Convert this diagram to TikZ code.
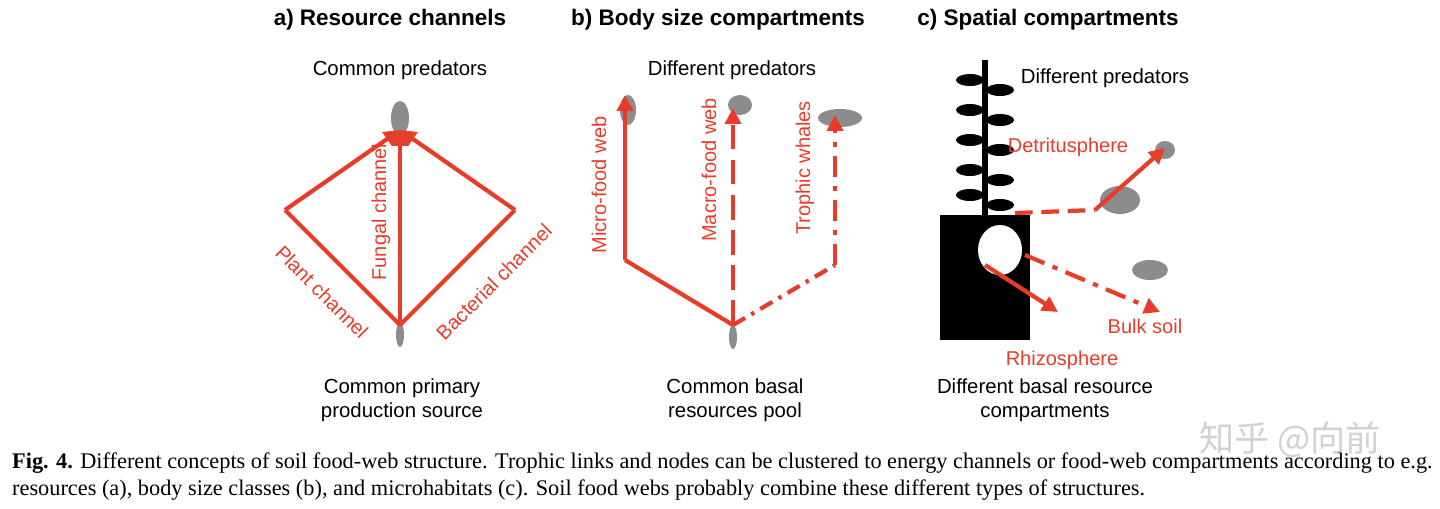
\documentclass[tikz,border=0pt]{standalone}
\usepackage{fontspec}
\setmainfont{Liberation Serif}
\setsansfont{Liberation Sans}
\newfontfamily\cjk{Noto Sans CJK SC}
\usetikzlibrary{arrows.meta}
\definecolor{rd}{RGB}{232,60,42}
\definecolor{org}{RGB}{140,140,140}
\begin{document}
\begin{tikzpicture}[x=0.02cm,y=-0.02cm,
  ttl/.style={font=\sffamily\bfseries\fontsize{12.8}{14}\selectfont},
  lbl/.style={font=\sffamily\fontsize{11.6}{13.5}\selectfont,align=center},
  rlbl/.style={font=\sffamily\fontsize{11.4}{13}\selectfont,text=rd},
  ar/.style={draw=rd,line width=2.4pt,-{Triangle[length=9pt,width=9pt]}},
  ln/.style={draw=rd,line width=2.4pt},
  bl/.style={fill=org,draw=none}]
\useasboundingbox (0,0) rectangle (1440,508);
% titles
\node[ttl] (ta) at (390,20) {a) Resource channels};
\node[ttl] (tb) at (718,20) {b) Body size compartments};
\node[ttl] (tc) at (1048,20) {c) Spatial compartments};
% ---- panel a
\node[lbl] (pa) at (400,70) {Common predators};
\fill[bl] (400,118) ellipse (9 and 17);
\fill[bl] (400,335) ellipse (4 and 12);
\coordinate (sa) at (400,325);
\coordinate (ta1) at (400,130);
\coordinate (la) at (285,210);
\coordinate (ra) at (515,210);
\draw[ln] (sa) -- (la);
\draw[ar] (la) -- (ta1);
\draw[ln] (sa) -- (ra);
\draw[ar] (ra) -- (ta1);
\draw[ar] (sa) -- (ta1);
\node[rlbl,rotate=-45] (plc) at (322,292) {Plant channel};
\node[rlbl,rotate=90] (fuc) at (381,212) {Fungal channel};
\node[rlbl,rotate=45] (bac) at (494,282) {Bacterial channel};
\node[lbl] (ba) at (402,400) {Common primary\\production source};
% ---- panel b
\node[lbl] (pb) at (732,70) {Different predators};
\fill[bl] (628,110) ellipse (8 and 15);
\fill[bl] (740,105) ellipse (12 and 10);
\fill[bl] (840,118) ellipse (22 and 9);
\fill[bl] (733,337) ellipse (4 and 12);
\coordinate (sb) at (733,325);
\coordinate (mb) at (625,260);
\coordinate (mbt) at (625,95);
\coordinate (mat) at (733,108);
\coordinate (wb) at (835,265);
\coordinate (wbt) at (835,115);
\draw[ln] (sb) -- (mb);
\draw[ar] (mb) -- (mbt);
\draw[ar,dash pattern=on 14pt off 6pt] (sb) -- (mat);
\draw[ln,dash pattern=on 8pt off 4pt on 2pt off 4pt] (sb) -- (wb);
\draw[ar,dash pattern=on 12pt off 5pt on 3pt off 5pt] (wb) -- (wbt);
\node[rlbl,rotate=90] (mic) at (599,185) {Micro-food web};
\node[rlbl,rotate=90] (mac) at (709,170) {Macro-food web};
\node[rlbl,rotate=90] (tw) at (805,168) {Trophic whales};
\node[lbl] (bb) at (735,400) {Common basal\\resources pool};
% ---- panel c
\node[lbl] (pc) at (1105,78) {Different predators};
\fill[black] (940,215) rectangle (1030,340);
\draw[black,line width=3pt] (985,215) -- (985,60);
\foreach \yy in {80,110,140,170,195}{
  \fill[black] (970,\yy) ellipse (14 and 6);
  \fill[black] (1000,\yy+10) ellipse (14 and 6);}
\fill[white] (1000,250) ellipse (22 and 25);
\fill[bl] (1165,150) ellipse (10 and 9);
\fill[bl] (1120,200) ellipse (20 and 14);
\fill[bl] (1150,270) ellipse (18 and 10);
\node[rlbl] (det) at (1068,147) {Detritusphere};
\coordinate (c1) at (1015,213);
\coordinate (c2) at (1095,210);
\coordinate (c3) at (1165,148);
\coordinate (c4) at (985,265);
\coordinate (c5) at (1058,312);
\coordinate (c6) at (1025,255);
\coordinate (c7) at (1160,312);
\draw[ln,dash pattern=on 10pt off 5pt] (c1) -- (c2);
\draw[ar] (c2) -- (c3);
\draw[ar] (c4) -- (c5);
\draw[ar,dash pattern=on 12pt off 5pt on 3pt off 5pt] (c6) -- (c7);
\node[rlbl] (bs) at (1145,326) {Bulk soil};
\node[rlbl] (rh) at (1062,360) {Rhizosphere};
\node[lbl] (bc) at (1045,400) {Different basal resource\\compartments};
% watermark
\node[text=black!18,font=\cjk\fontsize{20}{22}\selectfont] (wm) at (1290,440) {知乎 @向前};
% caption
\node[anchor=west,font=\fontsize{12.7}{15}\selectfont] (cap1) at (6,463) {\textbf{Fig. 4.} Different concepts of soil food-web structure. Trophic links and nodes can be clustered to energy channels or food-web compartments according to e.g.};
\node[anchor=west,font=\fontsize{12.7}{15}\selectfont] (cap2) at (6,490) {resources (a), body size classes (b), and microhabitats (c). Soil food webs probably combine these different types of structures.};
\end{tikzpicture}
\end{document}
